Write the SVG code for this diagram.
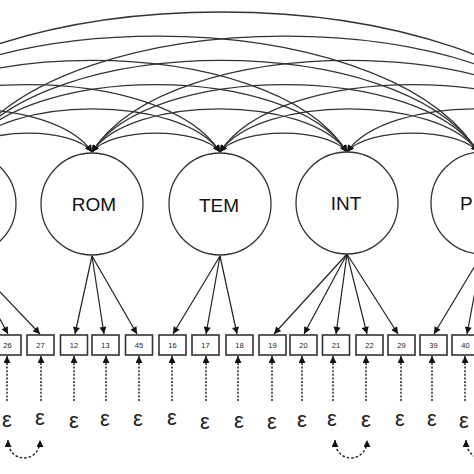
<svg xmlns="http://www.w3.org/2000/svg" width="474" height="474" viewBox="0 0 474 474">
<style>
.arc{fill:none;stroke:#333;stroke-width:1.3;marker-start:url(#ah);marker-end:url(#ah)}
.ld{fill:none;stroke:#222;stroke-width:1.2;marker-end:url(#ah2)}
.er{fill:none;stroke:#222;stroke-width:1.5;stroke-dasharray:2,1.6;marker-end:url(#ah2)}
.cv{fill:none;stroke:#222;stroke-width:1.4;stroke-dasharray:2.5,2;marker-start:url(#ah2);marker-end:url(#ah2)}
.fac{fill:#fff;stroke:#333;stroke-width:1.3}
.ft{font-family:"Liberation Sans",Arial,sans-serif;font-size:19px;fill:#111;text-anchor:middle}
.box{fill:#fff;stroke:#333;stroke-width:1.6}
.bt{font-family:"Liberation Sans",Arial,sans-serif;font-size:7.5px;fill:#222;text-anchor:middle}
.eps{font-family:"Liberation Sans",Arial,sans-serif;font-size:22px;fill:#222;text-anchor:middle}
</style>
<defs>
<marker id="ah" viewBox="0 0 10 10" refX="10" refY="5" markerWidth="7" markerHeight="7" markerUnits="userSpaceOnUse" orient="auto-start-reverse"><path d="M0,0 L10,5 L0,10 z" fill="#111"/></marker>
<marker id="ah2" viewBox="0 0 10 10" refX="10" refY="5" markerWidth="8" markerHeight="7" markerUnits="userSpaceOnUse" orient="auto-start-reverse"><path d="M0,0 L10,5 L0,10 z" fill="#111"/></marker>
</defs>
<rect width="474" height="474" fill="#fff"/>
<g id="connectors">
<path class="arc" d="M-163 152 C-124.7 94.4 53.7 94.4 92 152"/>
<path class="arc" d="M-163 152 C-105.5 62.1 162.5 62.1 220 152"/>
<path class="arc" d="M-163 152 C-86.5 29.9 270.5 29.9 347 152"/>
<path class="arc" d="M-163 152 C-66.8 -2.4 381.8 -2.4 478 152"/>
<path class="arc" d="M-163 152 C-47.6 -34.7 490.6 -34.7 606 152"/>
<path class="arc" d="M-35 152 C-15.9 126.7 72.9 126.7 92 152"/>
<path class="arc" d="M-35 152 C3.3 94.4 181.7 94.4 220 152"/>
<path class="arc" d="M-35 152 C22.3 62.1 289.7 62.1 347 152"/>
<path class="arc" d="M-35 152 C42 29.9 401 29.9 478 152"/>
<path class="arc" d="M-35 152 C61.2 -2.4 509.8 -2.4 606 152"/>
<path class="arc" d="M92 152 C111.2 126.7 200.8 126.7 220 152"/>
<path class="arc" d="M92 152 C130.3 94.4 308.7 94.4 347 152"/>
<path class="arc" d="M92 152 C149.9 62.1 420.1 62.1 478 152"/>
<path class="arc" d="M92 152 C169.1 29.9 528.9 29.9 606 152"/>
<path class="arc" d="M220 152 C239.1 126.7 327.9 126.7 347 152"/>
<path class="arc" d="M220 152 C258.7 94.4 439.3 94.4 478 152"/>
<path class="arc" d="M220 152 C277.9 62.1 548.1 62.1 606 152"/>
<path class="arc" d="M347 152 C366.7 126.7 458.3 126.7 478 152"/>
<path class="arc" d="M347 152 C385.9 94.4 567.1 94.4 606 152"/>
<line class="ld" x1="-35" y1="255" x2="8" y2="334"/>
<line class="ld" x1="-35" y1="255" x2="40" y2="334"/>
<line class="ld" x1="92" y1="256" x2="75" y2="334"/>
<line class="ld" x1="92" y1="256" x2="104" y2="334"/>
<line class="ld" x1="92" y1="256" x2="137" y2="334"/>
<line class="ld" x1="220" y1="256" x2="173" y2="334"/>
<line class="ld" x1="220" y1="256" x2="206" y2="334"/>
<line class="ld" x1="220" y1="256" x2="237" y2="334"/>
<line class="ld" x1="347" y1="254" x2="274" y2="334"/>
<line class="ld" x1="347" y1="254" x2="304" y2="334"/>
<line class="ld" x1="347" y1="254" x2="336" y2="334"/>
<line class="ld" x1="347" y1="254" x2="367" y2="334"/>
<line class="ld" x1="347" y1="254" x2="398" y2="334"/>
<line class="ld" x1="482" y1="254" x2="434" y2="334"/>
<line class="ld" x1="482" y1="254" x2="467" y2="334"/>
<line class="er" x1="7" y1="401" x2="7" y2="356"/>
<line class="er" x1="41" y1="401" x2="41" y2="356"/>
<line class="er" x1="74" y1="401" x2="74" y2="356"/>
<line class="er" x1="106" y1="401" x2="106" y2="356"/>
<line class="er" x1="139" y1="401" x2="139" y2="356"/>
<line class="er" x1="172" y1="401" x2="172" y2="356"/>
<line class="er" x1="206" y1="401" x2="206" y2="356"/>
<line class="er" x1="238" y1="401" x2="238" y2="356"/>
<line class="er" x1="272" y1="401" x2="272" y2="356"/>
<line class="er" x1="302" y1="401" x2="302" y2="356"/>
<line class="er" x1="333" y1="401" x2="333" y2="356"/>
<line class="er" x1="366" y1="401" x2="366" y2="356"/>
<line class="er" x1="401" y1="401" x2="401" y2="356"/>
<line class="er" x1="432" y1="401" x2="432" y2="356"/>
<line class="er" x1="465" y1="401" x2="465" y2="356"/>
<path class="cv" d="M8 440 C8 464 40 464 40 440"/>
<path class="cv" d="M335 440 C335 464 367 464 367 440"/>
<path class="cv" d="M466 440 C466 464 498 464 498 440"/>
</g>
<g id="factor-left"><circle class="fac" cx="-35" cy="204" r="51"/></g>
<g id="factor-ROM"><circle class="fac" cx="92" cy="204" r="51"/><text class="ft" x="94" y="211">ROM</text></g>
<g id="factor-TEM"><circle class="fac" cx="220" cy="204" r="51"/><text class="ft" x="219" y="212">TEM</text></g>
<g id="factor-INT"><circle class="fac" cx="347" cy="203" r="51"/><text class="ft" x="346" y="210">INT</text></g>
<g id="factor-right"><circle class="fac" cx="482" cy="203" r="51"/><text class="ft" x="460" y="210" style="text-anchor:start">P</text></g>
<g id="ind-26"><rect class="box" x="-6" y="335" width="27" height="20"/><text class="bt" x="7.5" y="348">26</text></g>
<g id="ind-27"><rect class="box" x="27" y="335" width="27" height="20"/><text class="bt" x="40.5" y="348">27</text></g>
<g id="ind-12"><rect class="box" x="60.5" y="335" width="27" height="20"/><text class="bt" x="74" y="348">12</text></g>
<g id="ind-13"><rect class="box" x="92" y="335" width="27" height="20"/><text class="bt" x="105.5" y="348">13</text></g>
<g id="ind-45"><rect class="box" x="125.5" y="335" width="27" height="20"/><text class="bt" x="139" y="348">45</text></g>
<g id="ind-16"><rect class="box" x="159" y="335" width="27" height="20"/><text class="bt" x="172.5" y="348">16</text></g>
<g id="ind-17"><rect class="box" x="192" y="335" width="27" height="20"/><text class="bt" x="205.5" y="348">17</text></g>
<g id="ind-18"><rect class="box" x="226" y="335" width="27" height="20"/><text class="bt" x="239.5" y="348">18</text></g>
<g id="ind-19"><rect class="box" x="259" y="335" width="27" height="20"/><text class="bt" x="272.5" y="348">19</text></g>
<g id="ind-20"><rect class="box" x="290" y="335" width="27" height="20"/><text class="bt" x="303.5" y="348">20</text></g>
<g id="ind-21"><rect class="box" x="322.5" y="335" width="27" height="20"/><text class="bt" x="336" y="348">21</text></g>
<g id="ind-22"><rect class="box" x="356" y="335" width="27" height="20"/><text class="bt" x="369.5" y="348">22</text></g>
<g id="ind-29"><rect class="box" x="388" y="335" width="27" height="20"/><text class="bt" x="401.5" y="348">29</text></g>
<g id="ind-39"><rect class="box" x="420" y="335" width="27" height="20"/><text class="bt" x="433.5" y="348">39</text></g>
<g id="ind-40"><rect class="box" x="452" y="335" width="27" height="20"/><text class="bt" x="465.5" y="348">40</text></g>
<g id="errors">
<text class="eps" x="7" y="427">ε</text>
<text class="eps" x="40" y="425">ε</text>
<text class="eps" x="74" y="428">ε</text>
<text class="eps" x="105" y="426">ε</text>
<text class="eps" x="138" y="426">ε</text>
<text class="eps" x="172" y="425">ε</text>
<text class="eps" x="205" y="429">ε</text>
<text class="eps" x="239" y="428">ε</text>
<text class="eps" x="272" y="429">ε</text>
<text class="eps" x="302" y="427">ε</text>
<text class="eps" x="332" y="426">ε</text>
<text class="eps" x="366" y="427">ε</text>
<text class="eps" x="400" y="426">ε</text>
<text class="eps" x="432" y="426">ε</text>
<text class="eps" x="464" y="428">ε</text>
</g>
</svg>
